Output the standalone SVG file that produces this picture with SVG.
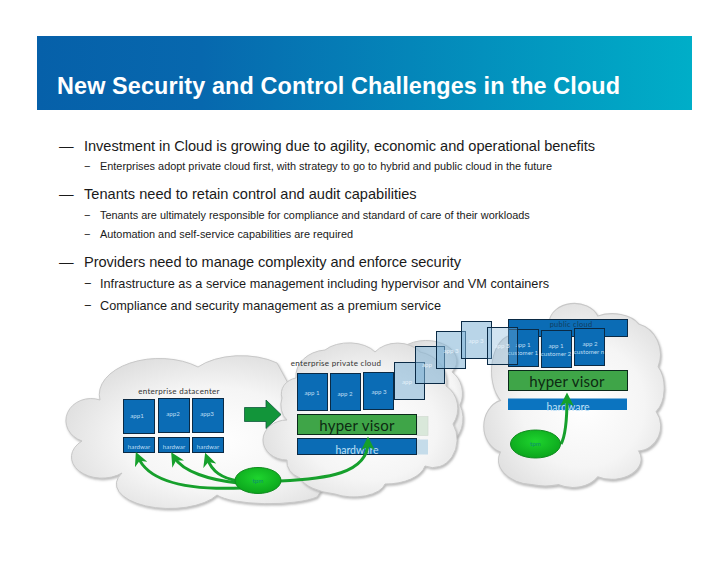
<svg xmlns="http://www.w3.org/2000/svg" width="728" height="563" viewBox="0 0 728 563">
<style>
text{font-family:"Liberation Sans",Arial,sans-serif}
.h1{font-size:14.6px;fill:#1a1a1a}
.h2{font-size:10.9px;fill:#1a1a1a}
.h2b{font-size:12.7px;fill:#1a1a1a}
.box{fill:#0b6cb5;stroke:#0a2a45;stroke-width:1}
.ghost{fill:#7fb2d6;fill-opacity:.55;stroke:#0a2a45;stroke-width:1}
.hv{fill:#3fa548;stroke:#0a2a1a;stroke-width:1}
.c{font-family:Lato,"Open Sans",sans-serif;text-anchor:middle}
.lab{font-size:6.2px;fill:#bcdcf2}
.gl{font-size:6.2px;fill:#e4f1fa}
.cl{font-size:8px;fill:#333;letter-spacing:.3px}
.big{font-size:15px;fill:#0d2a12;letter-spacing:.25px}
.hw{font-size:10.5px;fill:#bfe0f6}
.cloud{fill:url(#cg);stroke:#c8c8c8;stroke-width:1;filter:url(#sh)}
.arr{fill:none;stroke:#16a02c;stroke-width:3;marker-end:url(#ah)}
.oval{fill:url(#og);stroke:#0f8a1e;stroke-width:1}
</style>
<defs>
<linearGradient id="hg" x1="0" x2="1" y1="0" y2="0"><stop offset="0" stop-color="#0660a9"/><stop offset=".25" stop-color="#0768ae"/><stop offset="1" stop-color="#00aec8"/></linearGradient>
<radialGradient id="cg" cx=".55" cy=".55" r=".62"><stop offset="0" stop-color="#ffffff"/><stop offset=".55" stop-color="#f5f5f5"/><stop offset="1" stop-color="#dcdcdc"/></radialGradient>
<radialGradient id="og" cx=".5" cy=".4" r=".6"><stop offset="0" stop-color="#1ed42e"/><stop offset="1" stop-color="#0ba51c"/></radialGradient>
<filter id="sh" x="-5%" y="-5%" width="110%" height="110%"><feDropShadow dx="1" dy="1.5" stdDeviation="1" flood-color="#999" flood-opacity=".7"/></filter>
<marker id="ah" viewBox="0 0 10 10" refX="6" refY="5" markerWidth="4.6" markerHeight="4.6" orient="auto" markerUnits="strokeWidth"><path d="M0 0L10 5L0 10L3 5Z" fill="#16a02c"/></marker>
</defs>
<rect width="728" height="563" fill="#fff"/>
<g id="header">
<rect x="37" y="36" width="655" height="74" fill="url(#hg)"/>
<text x="57" y="93.500" font-size="23.400" font-weight="700" fill="#fff" textLength="563">New Security and Control Challenges in the Cloud</text>
</g>
<g id="bullets">
<text x="59" y="151" class="h1">—</text><text x="84" y="151" class="h1" textLength="511">Investment in Cloud is growing due to agility, economic and operational benefits</text>
<text x="84" y="170" class="h2">−</text><text x="100" y="170" class="h2" textLength="452">Enterprises adopt private cloud first, with strategy to go to hybrid and public cloud in the future</text>
<text x="59" y="199" class="h1">—</text><text x="84" y="199" class="h1">Tenants need to retain control and audit capabilities</text>
<text x="84" y="219" class="h2">−</text><text x="100" y="219" class="h2">Tenants are ultimately responsible for compliance and standard of care of their workloads</text>
<text x="84" y="238" class="h2">−</text><text x="100" y="238" class="h2">Automation and self-service capabilities are required</text>
<text x="59" y="267" class="h1">—</text><text x="84" y="267" class="h1" textLength="377">Providers need to manage complexity and enforce security</text>
<text x="84" y="288" class="h2b">−</text><text x="100" y="288" class="h2b" textLength="449">Infrastructure as a service management including hypervisor and VM containers</text>
<text x="84" y="310" class="h2b">−</text><text x="100" y="310" class="h2b" textLength="341">Compliance and security management as a premium service</text>
</g>
<g id="cloud-datacenter">
<path class="cloud" d="M100 400A60 36 0 0 1 198 367A55 30 0 0 1 277 363L335 470L317 497A55 13 0 0 1 217 495A52 24 0 0 1 122 473A26 18 0 0 1 82 441A24 21 0 0 1 100 400Z"/>
</g>
<g id="cloud-private-back">
<path class="cloud" d="M400 350A30 20 0 0 1 452 372A24 26 0 0 1 460 405A24 28 0 0 1 447 445L400 450Z"/>
</g>
<g id="cloud-private">
<path class="cloud" d="M287 420A14 18 0 0 1 282 398A18 16 0 0 1 296 378A32 26 0 0 1 325 350A30 18 0 0 1 375 352A28 22 0 0 1 420 352A34 30 0 0 1 446 386A24 26 0 0 1 453 424A24 28 0 0 1 425 466A40 22 0 0 1 385 484A32 16 0 0 1 335 494A48 22 0 0 1 300 478A24 18 0 0 1 287 460A24 20 0 0 1 287 420Z"/>
</g>
<g id="cloud-public">
<path class="cloud" transform="translate(23.700 -38) scale(.973 1.124)" d="M490 390A22 32 0 0 1 502 332A30 22 0 0 1 540 320A26 18 0 0 1 590 315A30 16 0 0 1 632 322A30 28 0 0 1 652 360A16 24 0 0 1 650 400A24 22 0 0 1 632 435A30 18 0 0 1 590 458A30 20 0 0 1 550 465A34 14 0 0 1 522 465A38 22 0 0 1 490 436A24 24 0 0 1 490 390Z"/>
</g>
<g id="datacenter">
<text x="179" y="394" class="c cl">enterprise datacenter</text>
<g id="dc-app1"><rect class="box" x="123.500" y="399.500" width="31" height="34"/><text x="137" y="418" class="c lab">app1</text></g>
<g id="dc-app2"><rect class="box" x="158.500" y="398.500" width="31" height="34"/><text x="173" y="416" class="c lab">app2</text></g>
<g id="dc-app3"><rect class="box" x="192.500" y="398.500" width="31" height="34"/><text x="207" y="416" class="c lab">app3</text></g>
<g id="dc-hw1"><rect class="box" x="123.500" y="437.500" width="31" height="15"/><text x="139" y="449" class="c lab">hardwar</text></g>
<g id="dc-hw2"><rect class="box" x="158.500" y="437.500" width="31" height="15"/><text x="174" y="449" class="c lab">hardwar</text></g>
<g id="dc-hw3"><rect class="box" x="192.500" y="437.500" width="31" height="15"/><text x="208" y="449" class="c lab">hardwar</text></g>
</g>
<g id="migrate-arrow"><path d="M244.500 407.500H266V400L281 414.500L266 428.500V421.500H244.500Z" fill="#12953a" stroke="#0e5a3c" stroke-width=".8"/></g>
<g id="private">
<text x="336" y="366" class="c cl">enterprise private cloud</text>
<rect x="417" y="416.500" width="11" height="19" fill="#d9e8da" stroke="#cdd8cd" stroke-width=".6"/>
<rect x="417" y="439.500" width="11" height="15" fill="#c5dcea"/>
<g id="pr-app1"><rect class="box" x="297.500" y="373.500" width="30" height="37"/><text x="312" y="395" class="c lab">app 1</text></g>
<g id="pr-app2"><rect class="box" x="330.500" y="373.500" width="30" height="37"/><text x="345" y="396" class="c lab">app 2</text></g>
<g id="pr-app3"><rect class="box" x="363.500" y="372.500" width="30" height="37"/><text x="379" y="394" class="c lab">app 3</text></g>
<g id="pr-hv"><rect class="hv" x="297.500" y="414.500" width="119" height="20"/><text x="357" y="431" class="c big">hyper visor</text></g>
<g id="pr-hw"><rect class="box" x="297.500" y="438.500" width="119" height="16"/><text x="357" y="454" class="c hw">hardware</text></g>
</g>
<g id="public">
<g id="pb-bar"><rect class="box" x="508.500" y="319.500" width="119" height="17"/><text x="571" y="326.500" class="c" style="font-size:7.400px;fill:#123c60;letter-spacing:.3px">public cloud</text></g>
<g id="pb-app1"><rect class="box" x="508.500" y="329.500" width="30" height="37"/><text x="523" y="347" class="c lab">app 1</text><text x="523" y="354.500" class="c lab">customer 1</text></g>
<g id="pb-app2"><rect class="box" x="541.500" y="330.500" width="30" height="37"/><text x="556" y="348" class="c lab">app 1</text><text x="556" y="355.500" class="c lab">customer 2</text></g>
<g id="pb-app3"><rect class="box" x="574.500" y="328.500" width="30" height="37"/><text x="590" y="346" class="c lab">app 2</text><text x="589" y="353.500" class="c lab">customer n</text></g>
<g id="pb-hv"><rect class="hv" x="508.500" y="370.500" width="119" height="20"/><text x="567" y="387" class="c big">hyper visor</text></g>
<g id="pb-hw"><rect x="508" y="398.500" width="119" height="11.500" fill="#0b74c0"/><text x="568" y="410.500" class="c hw">hardware</text></g>
</g>
<g id="ghosts">
<g id="gh1"><rect class="ghost" x="394.500" y="362.500" width="30" height="37"/><text x="407" y="384" class="c gl">app</text></g>
<g id="gh2"><rect class="ghost" x="415.500" y="346.500" width="29" height="37"/><text x="427" y="367" class="c gl">app</text></g>
<g id="gh3"><rect class="ghost" x="436.500" y="331.500" width="29" height="37"/><text x="451" y="353" class="c gl">app 3</text></g>
<g id="gh4"><rect class="ghost" x="461.500" y="321.500" width="30" height="37"/><text x="476" y="343" class="c gl">app 3</text></g>
<g id="gh5"><rect x="487.500" y="327.500" width="30" height="37" fill="#7fb2d6" fill-opacity=".35" stroke="#0a2a45"/><text x="502" y="348" class="c gl">app 3</text></g>
</g>
<g id="connectors">
<path class="arr" d="M242 488C195 490 150 485 138 457"/>
<path class="arr" d="M238 483C210 480 183 472 174 457"/>
<path class="arr" d="M238 481C222 478 212 472 207 458"/>
<path class="arr" d="M280 481C325 479 368 474 368 442"/>
<path class="arr" d="M561 444C566 435 567 415 567 398"/>
</g>
<g id="ovals">
<g id="oval-dc"><ellipse class="oval" cx="258" cy="480.500" rx="23" ry="13"/><text x="258" y="482.500" class="c lab" style="fill:#0b8f70">tpm</text></g>
<g id="oval-pb"><ellipse class="oval" cx="535.500" cy="444" rx="25" ry="14"/><text x="535.500" y="446" class="c lab" style="fill:#0b8f70">tpm</text></g>
</g>
</svg>
